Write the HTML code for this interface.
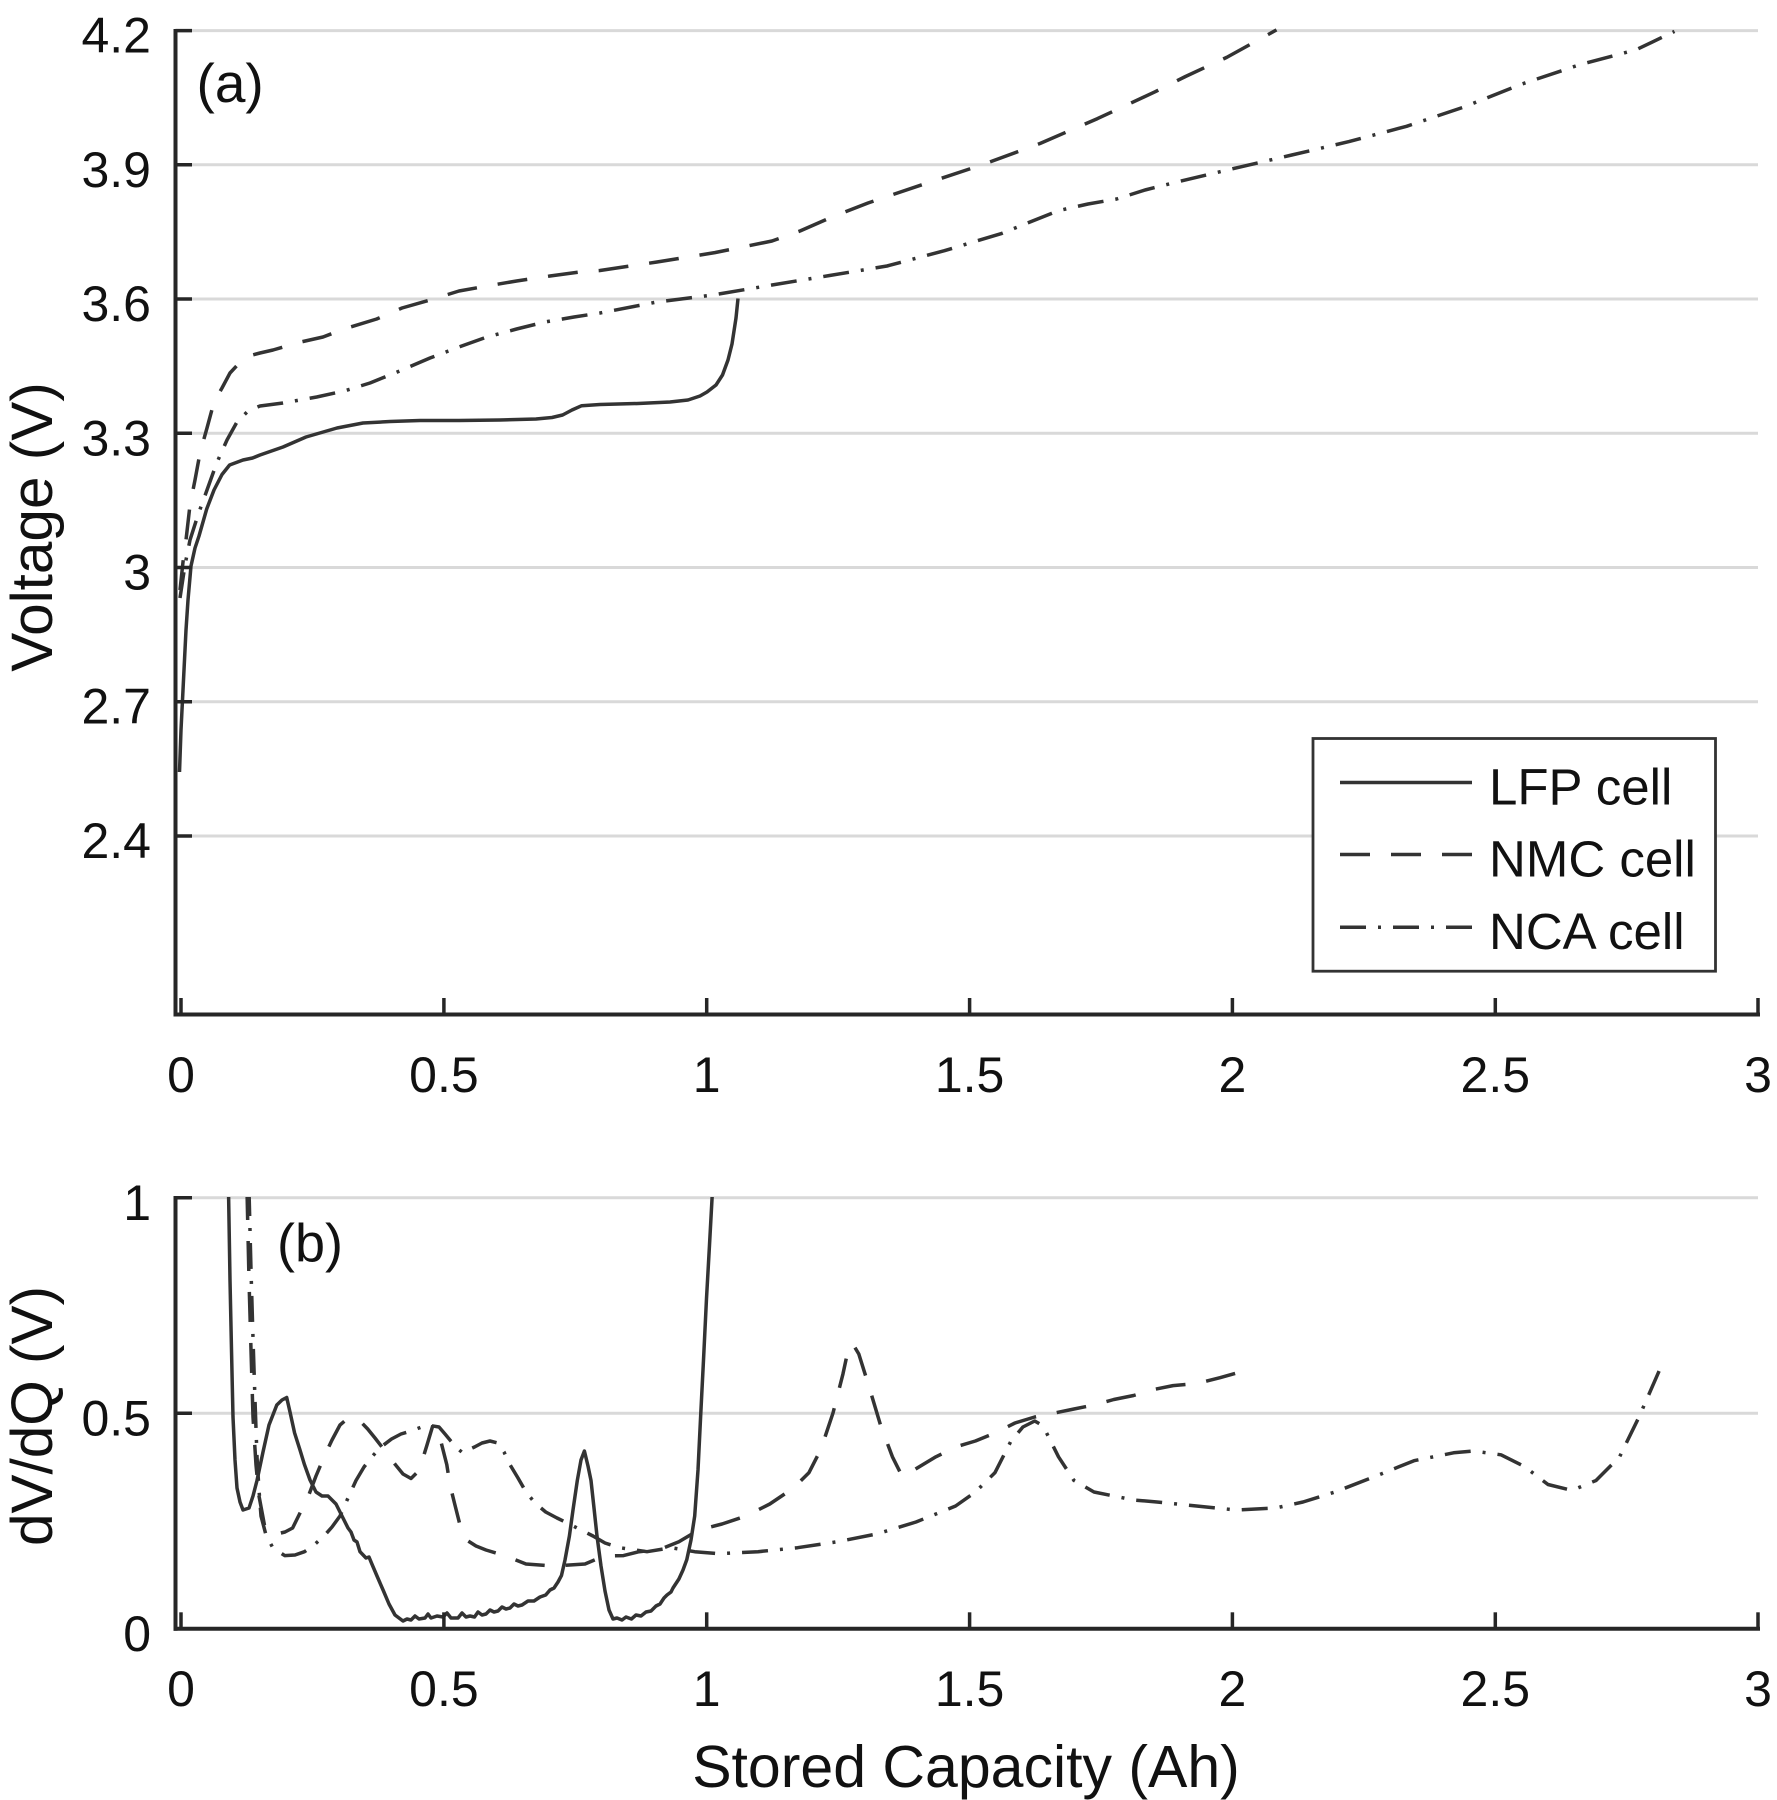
<!DOCTYPE html>
<html>
<head>
<meta charset="utf-8">
<style>
  html, body { margin: 0; padding: 0; background: #ffffff; }
  svg { display: block; }
  text { font-family: "Liberation Sans", Arial, Helvetica, sans-serif; fill: #111; }
</style>
</head>
<body>
<svg width="1777" height="1800" viewBox="0 0 1777 1800" xmlns="http://www.w3.org/2000/svg">
  <defs>
    <clipPath id="clipTop"><rect x="176" y="28" width="1584" height="988"/></clipPath>
    <clipPath id="clipBot"><rect x="176" y="1197" width="1584" height="433"/></clipPath>
  </defs>
  <rect x="0" y="0" width="1777" height="1800" fill="#fff"/>

  <!-- ============ TOP PLOT (a) ============ -->
  <g stroke="#d9d9d9" stroke-width="3">
    <line x1="176" y1="30.6" x2="1758" y2="30.6"/>
    <line x1="176" y1="164.8" x2="1758" y2="164.8"/>
    <line x1="176" y1="299.0" x2="1758" y2="299.0"/>
    <line x1="176" y1="433.3" x2="1758" y2="433.3"/>
    <line x1="176" y1="567.5" x2="1758" y2="567.5"/>
    <line x1="176" y1="701.7" x2="1758" y2="701.7"/>
    <line x1="176" y1="836.0" x2="1758" y2="836.0"/>
  </g>

  <g clip-path="url(#clipTop)" fill="none" stroke="#333" stroke-width="3.5" stroke-linejoin="round">
    <polyline points="179.5,772 181,730 183,690 186,630 188,600 191,566 195,548 199,536 206.7,509 214,490 222,474.5 229.6,465 243,460 252.6,458 260,455 283,447 306,437 337,428 363,423 390,421.5 420,420.5 459,420.5 500,420 536,419 552,417.5 562.6,415 572,410 581.7,405.7 600,404.5 638,403.5 670,402 688,400 700,396 707,392 716,385 722.5,375 728,360 732,344 736,318 738,298.5"/>
    <polyline stroke-dasharray="30 21" points="180,590 183,562 186,540 190,505 195,480 200,453 207,428 214,402 222,388 230,373 245,357 260,353 273,350 298.5,342.5 323,337 344,329 376.7,319 402,308 430,300 459,291 487,286 516.6,281 550,276 581.7,271.7 600,270.5 657,262 714.8,252.6 772,241 800,231 829.6,218 868,203 925,183.7 982.7,164.6 1040,143.5 1097.5,118.6 1155,91.8 1185.5,76.5 1226.7,57.4 1276.5,29.9"/>
    <polyline stroke-dasharray="26 12 3 12" points="180,598 185,565 190,540 198,515 207,490 216.7,463 227,440 237,422 248,411 260,406 283,403 316.7,397 344,391 370,383 402,370 430,358 459,347 487,337 516.6,329 545,322 574,317 600,313 657,302 714.8,294.7 772,285 829.6,275.5 887,266 944.4,250.7 1001.8,233.4 1030,222 1059,210.5 1088,204 1116.6,199 1145,190 1177,182 1234,168.4 1291.8,155 1349,141.6 1406.6,126.3 1464,107 1521.4,84.2 1578.8,65 1636,49.8 1674.5,31.4"/>
  </g>

  <g stroke="#262626" stroke-width="4" fill="none">
    <line x1="175.5" y1="29" x2="175.5" y2="1016.5"/>
    <line x1="173.5" y1="1014.5" x2="1760" y2="1014.5"/>
  </g>
  <g stroke="#262626" stroke-width="3.5">
    <line x1="175.5" y1="30.6" x2="192" y2="30.6"/>
    <line x1="175.5" y1="164.8" x2="192" y2="164.8"/>
    <line x1="175.5" y1="299.0" x2="192" y2="299.0"/>
    <line x1="175.5" y1="433.3" x2="192" y2="433.3"/>
    <line x1="175.5" y1="567.5" x2="192" y2="567.5"/>
    <line x1="175.5" y1="701.7" x2="192" y2="701.7"/>
    <line x1="175.5" y1="836.0" x2="192" y2="836.0"/>
  </g>
  <g stroke="#262626" stroke-width="3.5">
    <line x1="181" y1="1014.5" x2="181" y2="998"/>
    <line x1="443.9" y1="1014.5" x2="443.9" y2="998"/>
    <line x1="706.7" y1="1014.5" x2="706.7" y2="998"/>
    <line x1="969.6" y1="1014.5" x2="969.6" y2="998"/>
    <line x1="1232.4" y1="1014.5" x2="1232.4" y2="998"/>
    <line x1="1495.3" y1="1014.5" x2="1495.3" y2="998"/>
    <line x1="1758" y1="1016" x2="1758" y2="998"/>
  </g>
  <g font-size="50" text-anchor="end">
    <text x="151" y="52.6">4.2</text>
    <text x="151" y="186.8">3.9</text>
    <text x="151" y="321.0">3.6</text>
    <text x="151" y="455.3">3.3</text>
    <text x="151" y="589.5">3</text>
    <text x="151" y="723.7">2.7</text>
    <text x="151" y="858.0">2.4</text>
  </g>
  <g font-size="50" text-anchor="middle">
    <text x="181" y="1092">0</text>
    <text x="443.9" y="1092">0.5</text>
    <text x="706.7" y="1092">1</text>
    <text x="969.6" y="1092">1.5</text>
    <text x="1232.4" y="1092">2</text>
    <text x="1495.3" y="1092">2.5</text>
    <text x="1758" y="1092">3</text>
  </g>
  <text x="196.5" y="101.8" font-size="55">(a)</text>
  <text x="0" y="0" font-size="58.5" text-anchor="middle" transform="translate(52,527) rotate(-90)">Voltage (V)</text>

  <rect x="1313" y="738.5" width="402.5" height="232.7" fill="#fff" stroke="#333" stroke-width="2.8"/>
  <g stroke="#333" stroke-width="3.5" fill="none">
    <line x1="1340" y1="782.5" x2="1472" y2="782.5"/>
    <line x1="1340" y1="854.5" x2="1472" y2="854.5" stroke-dasharray="30 21"/>
    <line x1="1340" y1="927.2" x2="1472" y2="927.2" stroke-dasharray="26 12 3 12"/>
  </g>
  <g font-size="51">
    <text x="1489" y="804.7">LFP cell</text>
    <text x="1489" y="876.7">NMC cell</text>
    <text x="1489" y="949.2">NCA cell</text>
  </g>

  <!-- ============ BOTTOM PLOT (b) ============ -->
  <g stroke="#d9d9d9" stroke-width="3">
    <line x1="176" y1="1197.8" x2="1758" y2="1197.8"/>
    <line x1="176" y1="1413.3" x2="1758" y2="1413.3"/>
  </g>

  <g clip-path="url(#clipBot)" fill="none" stroke="#333" stroke-width="3.5" stroke-linejoin="round">
    <polyline points="228.5,1190 230,1280 231.5,1350 233,1417 235,1460 237,1488 240,1502 243,1510 249,1508 253,1496 257,1480.5 263,1452 269,1425 276.8,1405 282,1400 286.7,1397.5 290,1412 294.6,1433 300,1450 304.5,1464.7 310,1480 316,1492 322,1496 328,1496 336,1504 342,1516 348,1528 351,1532 354,1540 357,1542 360,1551.7 366,1558 369,1557 371.7,1563.6 377,1576 383.5,1591 389,1604 395,1615 403,1621 407,1619 411,1620 415,1616 419,1619 425,1618 428,1614 431,1618 437,1616 443,1617 447,1613 451,1618 458,1618 462,1613 466,1617 470,1616 474.5,1617 478,1612 482,1615 486,1614 490,1610 494,1612 498,1611 502,1607 506,1609 510,1608 514,1604 518,1606 522,1605 528,1601 534,1601 540,1597 545.7,1595 550,1590 554,1588 558,1582 561.5,1575.4 565,1560 569.4,1536 573,1510 577.3,1480.5 581,1460 584.4,1451 588,1466 591,1480.5 594,1508 597,1536 601,1566 605,1591 609,1610 613,1619 617,1618 622,1620 626,1617 631.4,1619 636,1615 641,1616 646,1612 651,1611 656,1606 660,1604 664,1598 667,1595 671,1592 673,1588 678.9,1579 683,1570 686.8,1559.6 691,1540 694.7,1516 698,1470 700.6,1417 703.5,1360 706.5,1298.6 709.5,1245 712.5,1190"/>
    <polyline stroke-dasharray="30 21" points="247,1190 249,1280 251,1350 253,1417 256,1465 259,1496 265,1528 270,1533 276.8,1534 285,1532 292.6,1528 300,1513 308.4,1496 316,1476 324,1457 332,1440 340,1425 347,1419 354,1418 361,1422 367.7,1429 375,1438 383.5,1449 395.4,1464.7 403,1474 411,1478.5 417,1472.6 423,1458 427,1445 433,1425 440,1438 446.8,1464.7 450,1485 454.7,1504 460,1525 466.6,1540 476,1546 486,1550 506,1556 526,1564 553.6,1566 585,1564 603.7,1556 623.5,1555.6 639,1551.7 659,1549.7 678.9,1541.8 698.6,1530 722,1524 746,1516 769.8,1504 793.5,1488 809,1472.6 821,1449 833,1413 843,1373.8 847,1355 850.8,1344 854,1346 858.8,1354 868.7,1385.6 880.5,1425 892.4,1456.8 902.3,1476.6 909,1473 916,1468.7 935.9,1456.8 955.6,1447 975.4,1441 995,1433 1015,1423 1034.7,1417 1054.5,1413 1074,1409 1094,1405 1113.8,1399.5 1133.6,1395.5 1153,1389.6 1173,1385.6 1196.5,1383.6 1220,1377.7 1248,1369.8"/>
    <polyline stroke-dasharray="26 12 3 12" points="249,1190 251,1270 253,1338 255,1400 257,1457 259,1490 261,1516 266,1535 272.8,1547.7 284.7,1555.6 295,1555 304.5,1551.7 314,1545 324,1536 332,1527 340,1516 348,1498 356,1480.5 364,1467 371.7,1457 381,1447 391.5,1439 401,1434 411,1431 427,1425 439,1427 445,1434 450.8,1441 457,1448 462.6,1452.8 468,1450 474.5,1447 482,1443 490,1441 498,1443 504,1452 510,1464.7 518,1478 526,1492 535,1503 545.7,1512 557,1518 569.4,1524 581,1530 593,1536 605,1543 619.5,1547.7 647,1551.7 671,1547.7 694.7,1551.7 718.4,1553.7 758,1551.7 797.5,1547.7 837,1541.8 876.6,1534 916,1522 955.6,1506 975.4,1492 995,1472.6 1011,1441 1022.9,1427 1034.7,1421 1040,1424 1046.6,1433 1058.5,1456.8 1074,1480.5 1094,1492 1133.6,1500 1157,1502 1196.5,1506 1236,1510 1275.6,1508 1303,1502 1335,1492 1374.5,1476.6 1414,1460.7 1453.6,1452.8 1473.3,1451 1501,1454.8 1524.7,1466.7 1548,1484.5 1572,1490.4 1596,1480.5 1619.6,1456.8 1639,1417 1651,1389.6 1663,1362"/>
  </g>

  <g stroke="#262626" stroke-width="4" fill="none">
    <line x1="175.5" y1="1196" x2="175.5" y2="1630.8"/>
    <line x1="173.5" y1="1628.8" x2="1760" y2="1628.8"/>
  </g>
  <g stroke="#262626" stroke-width="3.5">
    <line x1="175.5" y1="1197.8" x2="192" y2="1197.8"/>
    <line x1="175.5" y1="1413.3" x2="192" y2="1413.3"/>
    <line x1="181" y1="1628.8" x2="181" y2="1612.3"/>
    <line x1="443.9" y1="1628.8" x2="443.9" y2="1612.3"/>
    <line x1="706.7" y1="1628.8" x2="706.7" y2="1612.3"/>
    <line x1="969.6" y1="1628.8" x2="969.6" y2="1612.3"/>
    <line x1="1232.4" y1="1628.8" x2="1232.4" y2="1612.3"/>
    <line x1="1495.3" y1="1628.8" x2="1495.3" y2="1612.3"/>
    <line x1="1758" y1="1630.3" x2="1758" y2="1612.3"/>
  </g>
  <g font-size="50" text-anchor="end">
    <text x="151" y="1220">1</text>
    <text x="151" y="1435.3">0.5</text>
    <text x="151" y="1650.8">0</text>
  </g>
  <g font-size="50" text-anchor="middle">
    <text x="181" y="1706">0</text>
    <text x="443.9" y="1706">0.5</text>
    <text x="706.7" y="1706">1</text>
    <text x="969.6" y="1706">1.5</text>
    <text x="1232.4" y="1706">2</text>
    <text x="1495.3" y="1706">2.5</text>
    <text x="1758" y="1706">3</text>
  </g>
  <text x="277" y="1261.5" font-size="54">(b)</text>
  <text x="0" y="0" font-size="58.5" text-anchor="middle" transform="translate(52,1416) rotate(-90)">dV/dQ (V)</text>
  <text x="966" y="1787" font-size="59" text-anchor="middle">Stored Capacity (Ah)</text>
</svg>
</body>
</html>
